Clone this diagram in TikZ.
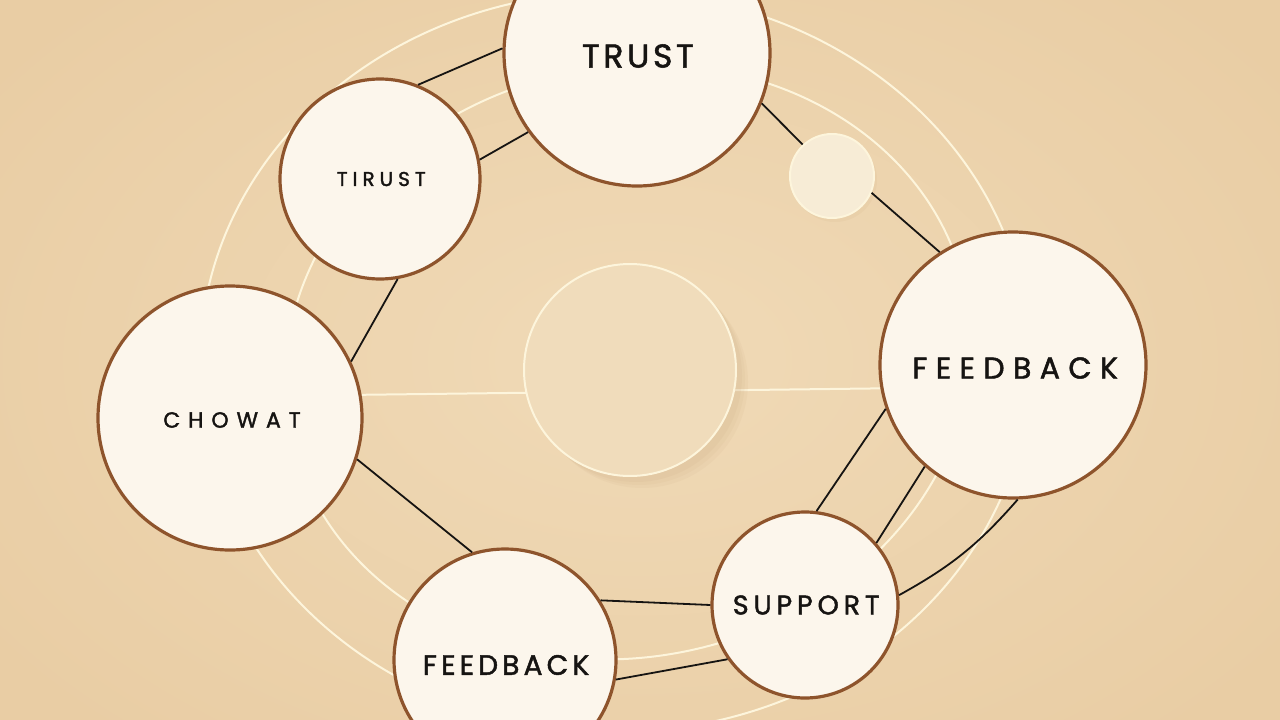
\documentclass[tikz,border=0pt]{standalone}
\usepackage{fontspec}
\setmainfont{Poppins}
\pgfdeclarelayer{bglayer}
\pgfdeclarelayer{ringlayer}
\pgfsetlayers{bglayer,ringlayer,main}
\definecolor{bgin}{RGB}{240,218,183}
\definecolor{bgout}{RGB}{233,205,164}
\definecolor{fillc}{RGB}{252,246,236}
\definecolor{brdr}{RGB}{142,84,44}
\definecolor{ink}{RGB}{22,20,18}
\definecolor{ringc}{RGB}{253,245,220}
\definecolor{hubfill}{RGB}{240,220,187}
\definecolor{dotfill}{RGB}{247,236,214}
\definecolor{shadowc}{RGB}{205,172,130}
\newcommand\bubtext[4]{\raisebox{#4}[\height][\depth]{\fontsize{#1}{#1}\selectfont\addfontfeature{LetterSpace=#2,FakeBold=1.6}\kern\dimexpr #2\fontdimen6\font/200\relax #3}}
\tikzset{
  bubble/.style={circle, draw=brdr, line width=3.2pt, fill=fillc, inner sep=0pt, text=ink},
  hubstyle/.style={circle, draw=ringc, line width=2pt, fill=hubfill, inner sep=0pt},
  dotstyle/.style={circle, draw=ringc, line width=2pt, fill=dotfill, inner sep=0pt},
  link/.style={draw=ink, line width=1.8pt},
  ring/.style={draw=ringc, line width=2pt},
}
\begin{document}
\begin{tikzpicture}[x=1pt,y=1pt]
\useasboundingbox (0,0) rectangle (1280,-720);
\clip (0,0) rectangle (1280,-720);

\node[bubble, minimum size=266pt] (trust) at (637,-53) {\bubtext{33}{11}{TRUST}{-3pt}};
\node[bubble, minimum size=200pt] (tirust) at (380,-179) {\bubtext{20}{25}{TIRUST}{0pt}};
\node[bubble, minimum size=264pt] (chowat) at (230,-418) {\bubtext{22}{36}{CHOWAT}{-2pt}};
\node[bubble, minimum size=266pt] (fbr) at (1013,-365) {\bubtext{30}{28}{FEEDBACK}{-3pt}};
\node[bubble, minimum size=186pt] (support) at (805,-605) {\bubtext{27}{18}{SUPPORT}{0pt}};
\node[bubble, minimum size=222pt] (fbb) at (505,-660) {\bubtext{28}{15}{FEEDBACK}{-5pt}};
\node[hubstyle, minimum size=212pt] (hub) at (630,-370) {};
\node[dotstyle, minimum size=84pt] (dot) at (832,-176) {};

\begin{pgfonlayer}{bglayer}
  \shade[inner color=bgin, outer color=bgout] (-150,150) rectangle (1430,-870);
\end{pgfonlayer}
\begin{pgfonlayer}{ringlayer}
  \draw[ring] (615,-362) ellipse [x radius=415, y radius=370];
  \draw[ring, rotate around={12:(628,-362)}] (628,-362) ellipse [x radius=345, y radius=295];
  \draw[ring] (chowat.10) -- (fbr.190);
  \foreach \o/\s in {0.10/8,0.10/5,0.12/2}
    \fill[shadowc, opacity=\o] (634+\s,-374-\s) circle (106);
  \fill[shadowc, opacity=0.12] (835,-180) circle (42);
\end{pgfonlayer}

\draw[link] (tirust.68) -- (trust.178);
\draw[link] (tirust.11) -- (trust.216);
\draw[link] (tirust.280) -- (chowat.25);
\draw[link] (chowat.342) -- (fbb.107);
\draw[link] (fbb.32) -- (support.180);
\draw[link] (fbb.350) -- (support.215);
\draw[link] (support.83) -- (fbr.199);
\draw[link] (support.41) -- (fbr.229);
\draw[link] (support.6) to[bend right=10] (fbr.272);
\draw[link] (trust.338) -- (dot.133);
\draw[link] (dot.337) -- (fbr.123);
\end{tikzpicture}
\end{document}
